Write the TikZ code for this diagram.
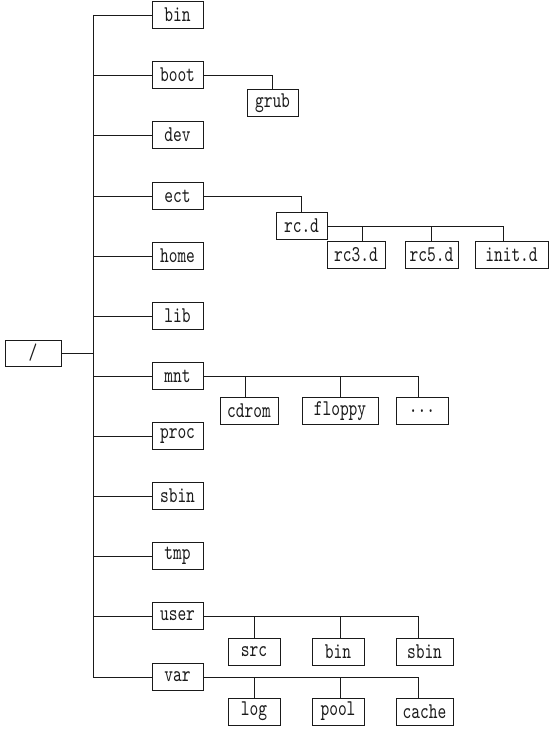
\documentclass[tikz,border=0pt]{standalone}
\usepackage{fontspec}
\setmonofont{lmmono10-regular.otf}[FakeStretch=0.74]
\usepackage{tikz}
\usetikzlibrary{calc}
\definecolor{ink}{HTML}{1A1A1A}
\tikzset{
  every node/.style={text=ink},
  dirbox/.style={draw=ink, fill=white, line width=0.95pt, inner sep=0pt,
    minimum height=27pt, font=\fontsize{22.5}{23}\selectfont\ttfamily},
  topdir/.style={dirbox, minimum width=51pt},
  branch/.style={draw=ink, line width=0.95pt}
}

\begin{document}
\begin{tikzpicture}[x=1pt,y=-1pt]
\useasboundingbox (0,0) rectangle (550,730);

% ---------------------------------------------------------------------------
% Root and first level directories.
% ---------------------------------------------------------------------------
\node[dirbox, minimum width=56pt, minimum height=26pt] (root) at (33,353) {/};

\node[topdir] (bin)  at (177.5,15)  {bin};
\node[topdir] (boot) at (177.5,75)  {boot};
\node[topdir] (dev)  at (177.5,135) {dev};
\node[topdir] (ect)  at (177.5,196) {ect};
\node[topdir] (home) at (177.5,256) {home};
\node[topdir] (lib)  at (177.5,316) {lib};
\node[topdir] (mnt)  at (177.5,376) {mnt};
\node[topdir] (proc) at (177.5,436) {proc};
\node[topdir] (sbin) at (177.5,496) {sbin};
\node[topdir] (tmp)  at (177.5,556) {tmp};
\node[topdir] (user) at (177.5,616) {user};
\node[topdir] (var)  at (177.5,677) {var};

\draw[branch] (root.east) -- ++(32,0) coordinate (trunk);
\draw[branch] (trunk |- bin.west) -- (trunk |- var.west);
\foreach \d in {bin,boot,dev,ect,home,lib,mnt,proc,sbin,tmp,user,var}
  \draw[branch] (trunk |- \d.west) -- (\d.west);

% ---------------------------------------------------------------------------
% Sub directories.
% ---------------------------------------------------------------------------
\node[dirbox, minimum width=51pt] (grub) at (272.5,103) {grub};
\draw[branch] (boot.east) -| (grub.north);

\node[dirbox, minimum width=51pt] (rcd) at (301.5,226) {rc.d};
\draw[branch] (ect.east) -| (rcd.north);

\node[dirbox, minimum width=58pt] (rcthree) at (356,255) {rc3.d};
\node[dirbox, minimum width=53pt] (rcfive)  at (431.5,255) {rc5.d};
\node[dirbox, minimum width=73pt] (initd)   at (511.5,255) {init.d};
\draw[branch] (rcd.east) -| ([xshift=-8pt]initd.north);
\draw[branch] ([xshift=6pt]rcthree.north) |- (rcd.east);
\draw[branch] (rcfive.north) |- (rcd.east);

\node[dirbox, minimum width=58pt] (cdrom)  at (249,411) {cdrom};
\node[dirbox, minimum width=76pt] (floppy) at (340,411) {floppy};
\node[dirbox, minimum width=52pt] (more)   at (422,411) {...};
\draw[branch] (mnt.east) -| ([xshift=-4pt]more.north);
\draw[branch] ([xshift=-4pt]cdrom.north) |- (mnt.east);
\draw[branch] (floppy.north) |- (mnt.east);

\node[dirbox, minimum width=52pt] (src)     at (254,651.5) {src};
\node[dirbox, minimum width=52pt] (userbin) at (338,651.5) {bin};
\node[dirbox, minimum width=57pt] (usersbin) at (424.5,651.5) {sbin};
\draw[branch] (user.east) -| ([xshift=-6pt]usersbin.north);
\draw[branch] (src.north) |- (user.east);
\draw[branch] ([xshift=2pt]userbin.north) |- (user.east);

\node[dirbox, minimum width=52pt] (log)   at (254,711.5) {log};
\node[dirbox, minimum width=52pt] (pool)  at (338,711.5) {pool};
\node[dirbox, minimum width=57pt] (cache) at (424.5,711.5) {cache};
\draw[branch] (var.east) -| ([xshift=-6pt]cache.north);
\draw[branch] (log.north) |- (var.east);
\draw[branch] ([xshift=2pt]pool.north) |- (var.east);

\end{tikzpicture}
\end{document}
